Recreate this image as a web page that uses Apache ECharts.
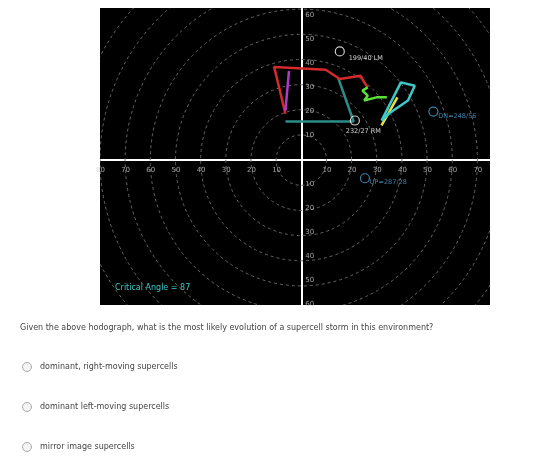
<!DOCTYPE html>
<html><head><meta charset="utf-8">
<script src="https://cdn.jsdelivr.net/npm/echarts@6/dist/echarts.min.js"></script>
<style>html,body{margin:0;background:#fff}#chart{width:550px;height:460px}</style>
</head><body><div id="chart"></div>
<script>
// hodograph traces (u, v) in knots
const redTrace = [[-6.3,19.2],[-10.8,38.6],[9.7,37.4],[15.3,33.6],[23.6,34.9],[25,32.2],[26.4,30.1]];
const magentaTrace = [[-4.9,37],[-6.3,20.5]];
const tealTrace = [[-6.3,16],[20.8,16],[14.6,34.2]];
const greenTrace = [[26.4,30.1],[24.3,28.8],[26.4,26.7],[25,24.7],[29.9,26],[34,26]];
const yellowTrace = [[31.9,14.4],[38.2,26]];
const cyanTrace = [[31.9,16.4],[39.6,32.2],[45.1,30.8],[42.4,24.7],[34.7,19.2],[31.9,16.4]];
const ringRadii = [10,20,30,40,50,60,70,80,90];
const xTickLabels = [-80,-70,-60,-50,-40,-30,-20,-10,10,20,30,40,50,60,70];
const yTickLabels = [-60,-50,-40,-30,-20,-10,10,20,30,40,50,60];
const motionPoints = [
  {value:[15.3,45], label:'199/40 LM', color:'#fff'},
  {value:[21.3,16.4], label:'232/27 RM', color:'#fff'},
  {value:[52.5,20.1], label:'DN=248/56', color:'#4aa3d6'},
  {value:[25.3,-7.5], label:'UP=287/28', color:'#4aa3d6'}
];
const answers = ['dominant, right-moving supercells','dominant left-moving supercells','mirror image supercells'];

let chart = echarts.init(document.getElementById('chart'));
const line = (data, color) => ({type:'line', data, symbol:'none', lineStyle:{color, width:2.5}, z:5});
const tickText = (data, pos) => ({type:'scatter', symbolSize:0, silent:true, z:7, data,
  label:{show:true, position:pos, color:'#ccc', fontSize:7, fontFamily:'DejaVu Sans',
    formatter:p => Math.abs(p.data[0] || p.data[1])}});

let option = {
  animation:false,
  grid:{left:100, right:60, top:8, bottom:155, show:true, backgroundColor:'#000', borderWidth:0},
  xAxis:{type:'value', min:-80, max:75, interval:10, splitLine:{show:false},
    axisLine:{onZero:true, lineStyle:{color:'#fff', width:2}}, axisTick:{show:false}, axisLabel:{show:false}},
  yAxis:{type:'value', min:-60, max:63, interval:10, splitLine:{show:false},
    axisLine:{onZero:true, lineStyle:{color:'#fff', width:2}}, axisTick:{show:false}, axisLabel:{show:false}},
  series:[
    {type:'custom', data:ringRadii, clip:true, silent:true, z:1,
      renderItem:(params, api) => {
        let c = api.coord([0,0]);
        let r = api.size([api.value(0), 0])[0];
        return {type:'circle', shape:{cx:c[0], cy:c[1], r},
          style:{fill:null, stroke:'#666', lineDash:[3,3], lineWidth:1}};
      }},
    tickText(xTickLabels.map(v => [v, 0]), [-4, 7]),
    tickText(yTickLabels.map(v => [0, v]), [4, -4]),
    line(tealTrace, '#2e8c86'),
    line(redTrace, '#d42a2a'),
    line(magentaTrace, '#b03ac8'),
    line(greenTrace, '#5ee03a'),
    line(yellowTrace, '#e8e040'),
    line(cyanTrace, '#3ec8c8'),
    {type:'scatter', symbol:'circle', symbolSize:9, z:6,
      data:motionPoints.map(p => ({value:p.value,
        itemStyle:{color:'transparent', borderColor:p.color, borderWidth:1.2},
        label:{show:true, formatter:p.label, color:p.color, fontSize:6.5, fontFamily:'DejaVu Sans',
          position:p.label.includes('LM') ? [14,8] : p.label.includes('RM') ? [-4,12] : [10,6]}}))}
  ],
  graphic:[
    {type:'text', left:115, top:284, style:{text:'Critical Angle = 87', fill:'#3ec8c8', font:'8px "DejaVu Sans"'}},
    {type:'text', left:20, top:324, style:{text:'Given the above hodograph, what is the most likely evolution of a supercell storm in this environment?', fill:'#444', font:'8px "DejaVu Sans"'}},
    ...answers.flatMap((a, i) => [
      {type:'circle', shape:{cx:27, cy:367 + i*40, r:4.5}, style:{fill:'#f4f4f4', stroke:'#aaa', lineWidth:1}},
      {type:'text', left:40, top:363 + i*40, style:{text:a, fill:'#444', font:'8px "DejaVu Sans"'}}
    ])
  ]
};
chart.setOption(option);
</script></body></html>
